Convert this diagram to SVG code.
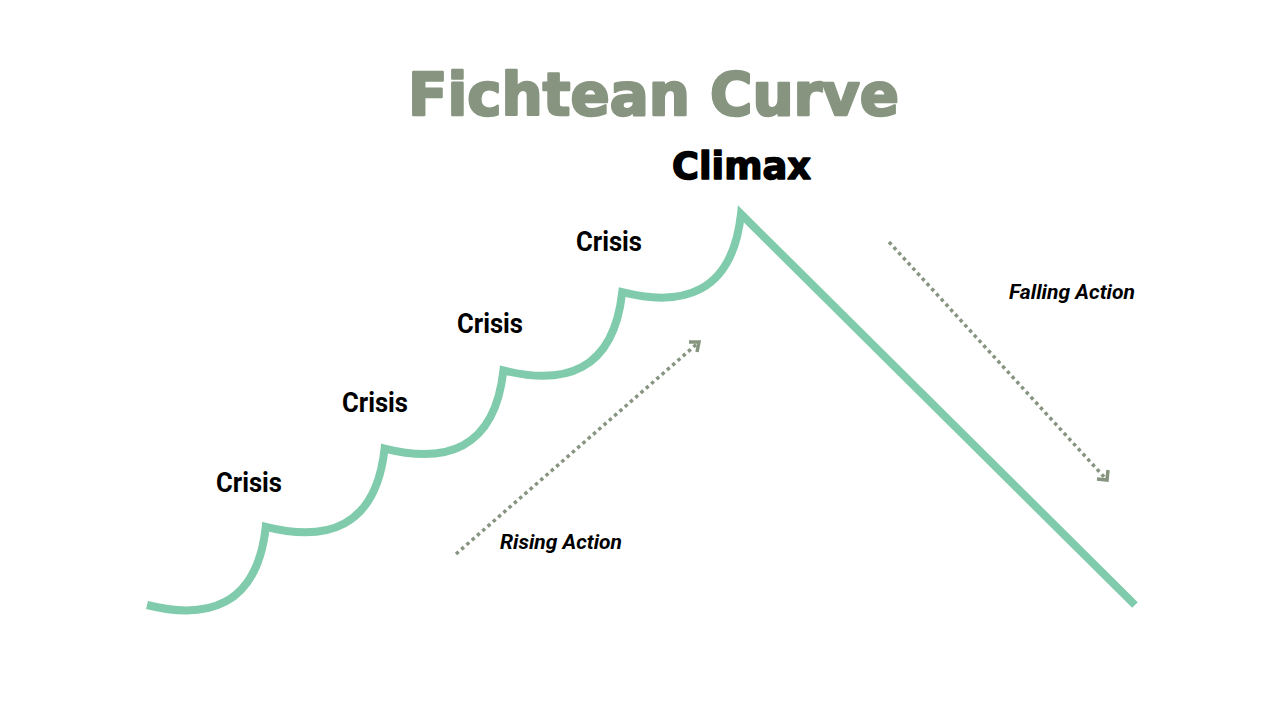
<svg xmlns="http://www.w3.org/2000/svg" width="1280" height="720" viewBox="0 0 1280 720">
<style>
.curve{fill:none;stroke:#80cbac;stroke-width:8;stroke-linejoin:miter;stroke-miterlimit:10}
.dots{fill:none;stroke:#879580;stroke-width:3.5;stroke-dasharray:3.5 3.5}
.head{fill:none;stroke:#879580;stroke-width:3.5;stroke-linejoin:miter}
.crisis{font-family:Roboto,"Liberation Sans",sans-serif;font-weight:700;font-size:27px;fill:#000}
.act{font-family:Roboto,"Liberation Sans",sans-serif;font-weight:700;font-style:italic;font-size:21px;fill:#000}
</style>
<rect width="1280" height="720" fill="#fff"/>
<g id="title"><text x="408" y="115" font-family="'DejaVu Sans',sans-serif" font-weight="700" font-size="58" fill="#879580" stroke="#879580" stroke-width="2.5" stroke-linejoin="round" textLength="491" lengthAdjust="spacingAndGlyphs">Fichtean Curve</text></g>
<g id="climax"><text x="672" y="179" font-family="'DejaVu Sans',sans-serif" font-weight="700" font-size="37" fill="#000" stroke="#000" stroke-width="1.5" stroke-linejoin="round" textLength="139" lengthAdjust="spacingAndGlyphs">Climax</text></g>
<g id="curve">
<path class="curve" d="M147,605 c60,15 110,2 118.8,-78.2 c60,15 110,2 118.8,-78.2 c60,15 110,2 118.8,-78.2 c60,15 110,2 118.8,-78.2 c60,15 110,2 118.8,-78.2 L1135,605"/>
</g>
<g id="crisis1"><text class="crisis" x="216" y="492" textLength="66" lengthAdjust="spacingAndGlyphs">Crisis</text></g>
<g id="crisis2"><text class="crisis" x="342" y="412" textLength="66" lengthAdjust="spacingAndGlyphs">Crisis</text></g>
<g id="crisis3"><text class="crisis" x="457" y="333" textLength="66" lengthAdjust="spacingAndGlyphs">Crisis</text></g>
<g id="crisis4"><text class="crisis" x="576" y="251" textLength="66" lengthAdjust="spacingAndGlyphs">Crisis</text></g>
<g id="connectors">
<path class="dots" d="M456,554 L698,343"/>
<path class="head" d="M689,342 L699,342 L697,352"/>
<path class="dots" d="M889,242 L1106,479"/>
<path class="head" d="M1108,470 L1107,480 L1097,479"/>
</g>
<g id="rising"><text class="act" x="500" y="549" textLength="122" lengthAdjust="spacingAndGlyphs">Rising Action</text></g>
<g id="falling"><text class="act" x="1009" y="299" textLength="126" lengthAdjust="spacingAndGlyphs">Falling Action</text></g>
</svg>
